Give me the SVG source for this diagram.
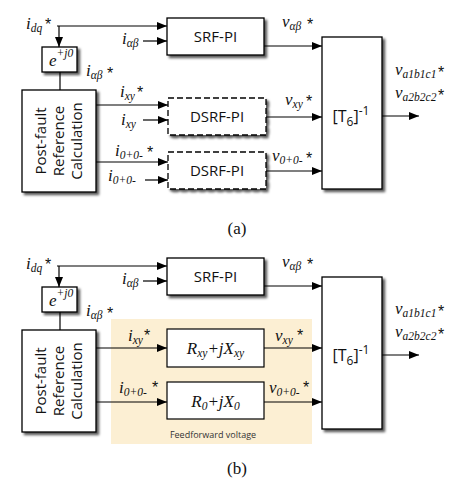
<svg xmlns="http://www.w3.org/2000/svg" width="474" height="482" viewBox="0 0 474 482">
<style>
.box{fill:#fff;stroke:#000;stroke-width:1.3;filter:url(#sh)}
.dash{stroke-dasharray:6,3}
.lbl{font-family:"Open Sans","Liberation Sans",sans-serif;font-size:15px;fill:#111;text-anchor:middle}
.t6{font-size:16px}
.m{font-family:"Liberation Serif",serif;font-style:italic;font-size:17px;fill:#111}
.s{font-size:11.5px}
.st{font-family:"Liberation Sans",sans-serif;font-size:16px;fill:#111}
.cap{font-family:"Liberation Serif",serif;font-size:17px;fill:#111;text-anchor:middle}
.c line,.c path{stroke:#000;stroke-width:1.2;fill:none}
.ar{marker-end:url(#a)}
</style>
<defs>
<marker id="a" markerUnits="userSpaceOnUse" markerWidth="10" markerHeight="8" refX="10" refY="4" orient="auto"><path d="M0,0L10,4L0,8z" fill="#000"/></marker>
<filter id="sh" x="-10%" y="-10%" width="130%" height="130%"><feDropShadow dx="2.5" dy="2.5" stdDeviation="1.3" flood-color="#000" flood-opacity="0.65"/></filter>
</defs>
<rect x="0" y="0" width="474" height="482" fill="#fff"/>
<rect id="feedforward" x="111" y="319" width="201" height="125" fill="#fcefd3"/>
<g class="c" id="connectors">
<line class="ar" x1="57" y1="26" x2="167" y2="26"/>
<line class="ar" x1="59" y1="26" x2="59" y2="47"/>
<line x1="60" y1="72" x2="60" y2="90"/>
<line class="ar" x1="143" y1="41" x2="167" y2="41"/>
<line class="ar" x1="264" y1="46" x2="322" y2="46"/>
<line class="ar" x1="96" y1="105" x2="168" y2="105"/>
<line class="ar" x1="143" y1="120" x2="168" y2="120"/>
<line class="ar" x1="266" y1="117" x2="322" y2="117"/>
<line class="ar" x1="96" y1="162" x2="168" y2="162"/>
<line class="ar" x1="145" y1="180" x2="168" y2="180"/>
<line class="ar" x1="266" y1="171" x2="322" y2="171"/>
<line class="ar" x1="382" y1="116" x2="419" y2="116"/>
<line class="ar" x1="57" y1="266" x2="167" y2="266"/>
<line class="ar" x1="59" y1="266" x2="59" y2="287"/>
<line x1="60" y1="312" x2="60" y2="330"/>
<line class="ar" x1="143" y1="281" x2="167" y2="281"/>
<line class="ar" x1="264" y1="286" x2="322" y2="286"/>
<line class="ar" x1="96" y1="348" x2="167" y2="348"/>
<line class="ar" x1="264" y1="348" x2="322" y2="348"/>
<line class="ar" x1="96" y1="402" x2="167" y2="402"/>
<line class="ar" x1="264" y1="402" x2="322" y2="402"/>
<line class="ar" x1="382" y1="355" x2="419" y2="355"/>
</g>
<!-- Panel (a) -->
<g id="a-exp"><rect class="box" x="42" y="47" width="35" height="25"/><text class="m" x="49" y="66">e<tspan class="s" dy="-9">+j0</tspan></text></g>
<g id="a-post"><rect class="box" x="22" y="90" width="74" height="102"/>
<text class="lbl" transform="translate(59,141) rotate(-90)"><tspan x="0" y="-13">Post-fault</tspan><tspan x="0" y="5">Reference</tspan><tspan x="0" y="23">Calculation</tspan></text></g>
<g id="a-srf"><rect class="box" x="167" y="18" width="97" height="37"/><text class="lbl" x="215.5" y="42">SRF-PI</text></g>
<g id="a-dsrf1"><rect class="box dash" x="168" y="98" width="98" height="37"/><text class="lbl" x="217" y="122">DSRF-PI</text></g>
<g id="a-dsrf2"><rect class="box dash" x="168" y="152" width="98" height="37"/><text class="lbl" x="217" y="176">DSRF-PI</text></g>
<g id="a-t6"><rect class="box" x="322" y="37" width="60" height="152"/><text class="lbl t6" x="351" y="122">[T<tspan font-size="12" dy="4">6</tspan><tspan dy="-4">]</tspan><tspan font-size="12" dy="-7">-1</tspan></text></g>
<g id="a-labels">
<text class="m" x="26" y="29">i<tspan class="s" dy="3">dq</tspan></text><text class="st" x="45" y="30">*</text>
<text class="m" x="122" y="44">i<tspan class="s" dy="3">αβ</tspan></text>
<text class="m" x="86" y="76">i<tspan class="s" dy="3">αβ</tspan></text><text class="st" x="107" y="79">*</text>
<text class="m" x="120" y="97">i<tspan class="s" dy="3">xy</tspan></text><text class="st" x="137" y="98">*</text>
<text class="m" x="121" y="125">i<tspan class="s" dy="3">xy</tspan></text>
<text class="m" x="115" y="156">i<tspan class="s" dy="3">0+0-</tspan></text><text class="st" x="147" y="158">*</text>
<text class="m" x="108" y="181">i<tspan class="s" dy="3">0+0-</tspan></text>
<text class="m" x="282" y="27">v<tspan class="s" dy="3">αβ</tspan></text><text class="st" x="307" y="30">*</text>
<text class="m" x="285" y="105">v<tspan class="s" dy="3">xy</tspan></text><text class="st" x="306" y="107">*</text>
<text class="m" x="272" y="161">v<tspan class="s" dy="3">0+0-</tspan></text><text class="st" x="306" y="164">*</text>
<text class="m" x="395" y="75">v<tspan class="s" dy="3">a1b1c1</tspan></text><text class="st" x="438" y="78">*</text>
<text class="m" x="395" y="98">v<tspan class="s" dy="3">a2b2c2</tspan></text><text class="st" x="438" y="101">*</text>
<text class="cap" x="237" y="234">(a)</text>
</g>
<!-- Panel (b) -->
<g id="b-exp"><rect class="box" x="42" y="287" width="35" height="25"/><text class="m" x="49" y="306">e<tspan class="s" dy="-9">+j0</tspan></text></g>
<g id="b-post"><rect class="box" x="22" y="330" width="74" height="102"/>
<text class="lbl" transform="translate(59,381) rotate(-90)"><tspan x="0" y="-13">Post-fault</tspan><tspan x="0" y="5">Reference</tspan><tspan x="0" y="23">Calculation</tspan></text></g>
<g id="b-srf"><rect class="box" x="167" y="258" width="97" height="37"/><text class="lbl" x="215.5" y="282">SRF-PI</text></g>
<g id="b-zxy"><rect x="167" y="329" width="97" height="38" fill="#fff" stroke="#000" stroke-width="1.2"/><text class="m" x="215.5" y="354" text-anchor="middle" font-size="16">R<tspan class="s" dy="3">xy</tspan><tspan dy="-3">+jX</tspan><tspan class="s" dy="3">xy</tspan></text></g>
<g id="b-z0"><rect x="167" y="382" width="97" height="37" fill="#fff" stroke="#000" stroke-width="1.2"/><text class="m" x="215.5" y="407" text-anchor="middle" font-size="16">R<tspan class="s" dy="3">0</tspan><tspan dy="-3">+jX</tspan><tspan class="s" dy="3">0</tspan></text></g>
<g id="b-t6"><rect class="box" x="322" y="277" width="60" height="152"/><text class="lbl t6" x="351" y="361">[T<tspan font-size="12" dy="4">6</tspan><tspan dy="-4">]</tspan><tspan font-size="12" dy="-7">-1</tspan></text></g>
<g id="b-labels">
<text class="m" x="26" y="269">i<tspan class="s" dy="3">dq</tspan></text><text class="st" x="45" y="270">*</text>
<text class="m" x="122" y="284">i<tspan class="s" dy="3">αβ</tspan></text>
<text class="m" x="86" y="316">i<tspan class="s" dy="3">αβ</tspan></text><text class="st" x="107" y="319">*</text>
<text class="m" x="128" y="341">i<tspan class="s" dy="3">xy</tspan></text><text class="st" x="144" y="341">*</text>
<text class="m" x="119" y="393">i<tspan class="s" dy="3">0+0-</tspan></text><text class="st" x="152" y="393">*</text>
<text class="m" x="282" y="267">v<tspan class="s" dy="3">αβ</tspan></text><text class="st" x="307" y="270">*</text>
<text class="m" x="275" y="341">v<tspan class="s" dy="3">xy</tspan></text><text class="st" x="297" y="341">*</text>
<text class="m" x="269" y="393">v<tspan class="s" dy="3">0+0-</tspan></text><text class="st" x="303" y="393">*</text>
<text class="m" x="395" y="314">v<tspan class="s" dy="3">a1b1c1</tspan></text><text class="st" x="438" y="317">*</text>
<text class="m" x="395" y="337">v<tspan class="s" dy="3">a2b2c2</tspan></text><text class="st" x="438" y="340">*</text>
<text x="213" y="438" font-family="'Open Sans','Liberation Sans',sans-serif" font-size="9" fill="#333" text-anchor="middle">Feedforward voltage</text>
<text class="cap" x="237" y="474">(b)</text>
</g>
</svg>
